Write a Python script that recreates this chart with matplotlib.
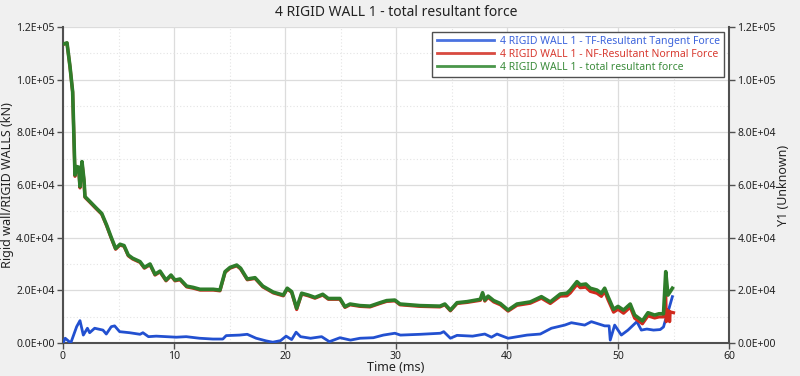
import matplotlib
matplotlib.use("Agg")
import matplotlib.pyplot as plt
from matplotlib.ticker import MultipleLocator, FuncFormatter

plt.rcParams['font.family'] = ['Noto Sans', 'DejaVu Sans']

title = "4 RIGID WALL 1 - total resultant force"
xlabel = "Time (ms)"
ylabel_left = "Rigid wall/RIGID WALLS (kN)"
ylabel_right = "Y1 (Unknown)"
labels = ["4 RIGID WALL 1 - TF-Resultant Tangent Force",
          "4 RIGID WALL 1 - NF-Resultant Normal Force",
          "4 RIGID WALL 1 - total resultant force"]

t_total = [0, 0.36, 0.63, 0.87, 1.08, 1.23, 1.41, 1.53, 1.71, 1.89, 1.98, 2.43, 3.03, 3.49,
           3.93, 4.32, 4.74, 5.14, 5.5, 5.88, 6.27, 6.94, 7.33, 7.84, 8.29, 8.74, 9.28, 9.73,
           10.09, 10.54, 11.14, 11.74, 12.34, 13.54, 14.14, 14.6, 15.05, 15.65, 16.0, 16.6,
           17.3, 18.0, 18.95, 19.85, 20.2, 20.6, 21.05, 21.5, 22.1, 22.7, 23.4, 23.9, 24.95,
           25.4, 25.86, 26.76, 27.66, 28.56, 29.16, 29.9, 30.36, 32.16, 33.96, 34.4, 34.9,
           35.5, 36.4, 37.6, 37.8, 38.0, 38.3, 38.8, 39.4, 40.1, 40.9, 42.1, 43.1, 43.9,
           44.8, 45.4, 45.7, 46.3, 46.6, 47.1, 47.5, 48.1, 48.5, 48.8, 49.1, 49.6, 50.0,
           50.5, 51.1, 51.5, 52.2, 52.7, 53.3, 53.7, 54.1, 54.3, 54.5, 54.9]
total = [113500, 114000, 105000, 95400, 63800, 67000, 66800, 59400, 68900, 62000, 55600, 53700,
         51100, 49200, 44800, 40400, 35900, 37500, 37000, 33400, 32200, 30900, 28700, 30000,
         26100, 27300, 23900, 25800, 23900, 24300, 21600, 21100, 20400, 20400, 20100, 27100,
         28700, 29600, 28400, 24300, 24800, 21600, 19300, 18200, 20800, 19500, 13200, 18900,
         18200, 17300, 18500, 16900, 16900, 13800, 14800, 14200, 14000, 15300, 16100, 16300,
         14800, 14200, 14000, 14800, 12500, 15300, 15700, 16600, 19100, 16300, 17800, 16100,
         15000, 12500, 14800, 15600, 17600, 15600, 18600, 18900, 20100, 23300, 22100, 22400,
         20800, 20100, 18900, 20800, 17600, 12800, 13900, 12500, 14800, 10600, 8400, 11500,
         10600, 11100, 11100, 27100, 18200, 20800]

t_normal = [0, 0.36, 0.63, 0.87, 1.08, 1.23, 1.41, 1.53, 1.71, 1.89, 1.98, 2.43, 3.03, 3.49,
            3.93, 4.32, 4.74, 5.14, 5.5, 5.88, 6.27, 6.94, 7.33, 7.84, 8.29, 8.74, 9.28, 9.73,
            10.09, 10.54, 11.14, 11.74, 12.34, 13.54, 14.14, 14.6, 15.05, 15.65, 16.0, 16.6,
            17.3, 18.0, 18.95, 19.85, 20.2, 20.6, 21.05, 21.5, 22.1, 22.7, 23.4, 23.9, 24.95,
            25.4, 25.86, 26.76, 27.66, 28.56, 29.16, 29.9, 30.36, 32.16, 33.96, 34.4, 34.9,
            35.5, 36.4, 37.6, 37.8, 38.0, 38.3, 38.8, 39.4, 40.1, 40.9, 42.1, 43.1, 43.9,
            44.8, 45.4, 45.7, 46.3, 46.6, 47.1, 47.5, 48.1, 48.5, 48.8, 49.1, 49.6, 50.0,
            50.5, 51.1, 51.5, 52.2, 52.7, 53.3, 53.7, 54.1, 54.3, 54.35, 54.45, 54.6, 54.65,
            54.7, 55.0]
normal = [113400, 113900, 104900, 95200, 63300, 66700, 66300, 58900, 68600, 61600, 55300, 53400,
          50800, 48900, 44500, 40100, 35600, 37200, 36700, 33100, 31900, 30600, 28400, 29700,
          25800, 27000, 23600, 25500, 23600, 24000, 21300, 20800, 20100, 20100, 19800, 26800,
          28400, 29300, 28100, 24000, 24500, 21300, 19000, 17900, 20500, 19200, 12700, 18600,
          17900, 17000, 18200, 16600, 16600, 13500, 14500, 13900, 13700, 15000, 15800, 16000,
          14500, 13900, 13700, 14500, 12200, 15000, 15400, 16200, 18700, 15900, 17300, 15600,
          14500, 12100, 14300, 15100, 17000, 15000, 17800, 17900, 19000, 22200, 21000, 21200,
          19600, 18900, 17700, 19600, 16400, 11700, 12800, 11300, 13600, 9400, 7300, 10300,
          9500, 9900, 9900, 18500, 8100, 12500, 12000, 8100, 11800, 11500]

t_tangent = [0, 0.2, 0.7, 1.23, 1.53, 1.83, 2.2, 2.4, 2.85, 3.6, 3.9, 4.35, 4.65, 5.1, 6.0,
             6.94, 7.2, 7.7, 8.4, 9.3, 10.2, 11.1, 12.3, 13.5, 14.4, 14.7, 15.9, 16.6, 17.4,
             18.3, 18.9, 19.6, 20.1, 20.6, 21.0, 21.4, 22.3, 23.3, 24.0, 24.95, 25.9, 26.76,
             27.96, 28.86, 29.9, 30.4, 32.2, 34.0, 34.3, 34.9, 35.5, 36.9, 38.0, 38.6, 39.1,
             40.1, 41.8, 43.0, 44.0, 45.2, 45.8, 47.0, 47.6, 48.8, 49.2, 49.3, 49.7, 50.3,
             50.9, 51.7, 52.1, 52.6, 53.2, 53.8, 54.1, 54.4, 54.6, 54.9]
tangent = [0, 1800, 0, 6200, 8500, 3000, 5600, 3900, 5600, 4900, 3400, 6200, 6500, 4300, 3900,
           3300, 3900, 2400, 2600, 2400, 2200, 2400, 1800, 1500, 1500, 2800, 3000, 3300, 1800,
           800, 300, 900, 2600, 1300, 4100, 2400, 1800, 2400, 500, 2000, 1100, 1800, 2000, 3000,
           3700, 3000, 3300, 3700, 4300, 1800, 2900, 2600, 3400, 2200, 3400, 1800, 3000, 3400,
           5600, 6800, 7700, 6800, 8100, 6500, 6500, 1100, 6800, 3000, 4900, 8100, 4900, 5300,
           4900, 5100, 6100, 10600, 13200, 17600]

c_blue = "#2250d0"
c_red = "#d02a1e"
c_green = "#2f7d2a"

fig = plt.figure(figsize=(8, 3.76), dpi=100, facecolor="#f0f0f0")
ax = fig.add_axes([0.07875, 0.0878, 0.8325, 0.8402])
ax.set_facecolor("white")

ax.plot(t_tangent, tangent, color=c_blue, lw=2.0, label=labels[0], zorder=3)
ax.plot(t_normal, normal, color=c_red, lw=2.3, label=labels[1], zorder=4)
ax.plot(t_total, total, color=c_green, lw=2.6, label=labels[2], zorder=5)

ax.set_xlim(0, 60)
ax.set_ylim(0, 120000)
ax.xaxis.set_major_locator(MultipleLocator(10))
ax.xaxis.set_minor_locator(MultipleLocator(5))
ax.yaxis.set_major_locator(MultipleLocator(20000))
ax.yaxis.set_minor_locator(MultipleLocator(10000))
fmt = FuncFormatter(lambda v, p: "%.1E" % v)
ax.yaxis.set_major_formatter(fmt)

ax.grid(which="major", color="#dcdcdc", lw=0.9)
ax.grid(which="minor", color="#e4e4e4", lw=0.8, ls=(0, (1, 2)))
ax.set_axisbelow(True)

for s in ["left", "bottom", "right"]:
    ax.spines[s].set_color("#505050")
    ax.spines[s].set_linewidth(1.5)
ax.spines["top"].set_visible(False)

ax.tick_params(which="major", labelsize=7.5, colors="#505050", labelcolor="#222222",
               length=4, width=1, pad=2)
ax.tick_params(which="minor", length=0)

ax.set_xlabel(xlabel, fontsize=9, color="#222222")
ax.xaxis.set_label_coords(0.5, -0.058)
ax.set_ylabel(ylabel_left, fontsize=9, color="#222222")
ax.yaxis.set_label_coords(-0.073, 0.5)
ax.set_title(title, fontsize=10, color="#222222", pad=8)

ax2 = ax.twinx()
ax2.set_ylim(0, 120000)
ax2.yaxis.set_major_locator(MultipleLocator(20000))
ax2.yaxis.set_major_formatter(fmt)
ax2.tick_params(labelsize=7.5, colors="#505050", labelcolor="#222222", length=4, width=1, pad=2)
for s in ["left", "bottom", "right", "top"]:
    ax2.spines[s].set_visible(False)
ax2.set_ylabel(ylabel_right, fontsize=9, color="#222222")
ax2.yaxis.set_label_coords(1.072, 0.5)

leg = ax.legend(loc="upper right", fontsize=7.5, handlelength=5.5, frameon=True, fancybox=False,
                borderaxespad=0.45, borderpad=0.4, labelspacing=0.2, handletextpad=0.6,
                edgecolor="#505050", framealpha=1)
leg.get_frame().set_linewidth(1.0)
for txt, col in zip(leg.get_texts(), ["#3c64dc", "#d83c32", "#3c8c3c"]):
    txt.set_color(col)
for line, col in zip(leg.get_lines(), ["#4a72e0", "#d84a40", "#4a964a"]):
    line.set_linewidth(2)
    line.set_color(col)

fig.savefig("out.png", dpi=100, facecolor=fig.get_facecolor())
